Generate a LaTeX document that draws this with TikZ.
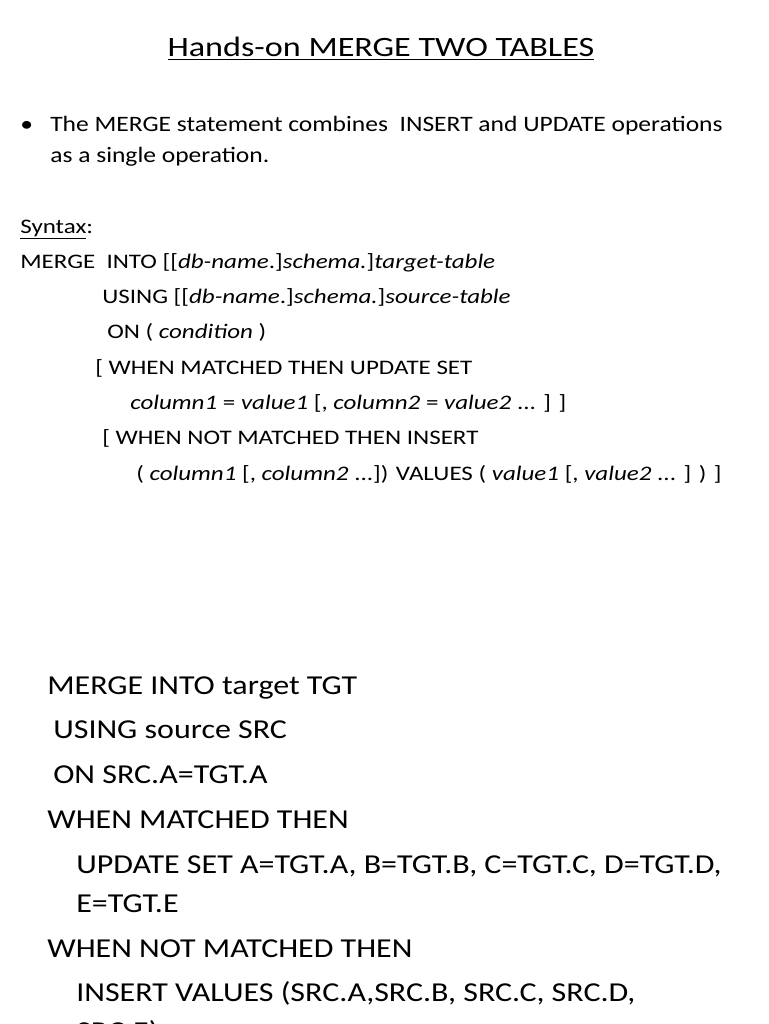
\documentclass[tikz,border=0pt]{standalone}
\usepackage{fontspec}
\setmainfont{Carlito}
\begin{document}
\begin{tikzpicture}[x=0.75pt,y=-0.75pt,
 t/.style={anchor=base west,inner sep=0pt,xscale=1.21,transform shape,font=\fontsize{15.5}{18}\selectfont},
 u/.style={anchor=base west,inner sep=0pt,xscale=1.16,transform shape,font=\fontsize{16.5}{20}\selectfont},
 b/.style={anchor=base west,inner sep=0pt,xscale=1.17,transform shape,font=\fontsize{20.5}{24}\selectfont}]
\useasboundingbox (0,0) rectangle (768,1024);
\clip (0,0) rectangle (768,1024);
\node[inner sep=0pt,anchor=base,xscale=1.22,transform shape,font=\fontsize{21}{25}\selectfont] (title) at (381,57) {\underline{Hands-on MERGE TWO TABLES}};
\node[u] (bul) at (20,131) {\textbullet};
\node[u] (l1) at (50,131) {The MERGE statement combines\ \ INSERT and UPDATE operations};
\node[u] (l2) at (50,162) {as a single operation.};
\node[t] (s0) at (20,233) {\underline{Syntax}:};
\node[t] (s1) at (20,268) {MERGE\ \ INTO [[\textit{db-name}.]\textit{schema.}]\textit{target-table}};
\node[t] (s2) at (102,303) {USING [[\textit{db-name}.]\textit{schema.}]\textit{source-table}};
\node[t] (s3) at (107,338) {ON ( \textit{condition} )};
\node[t] (s4) at (95,374) {[ WHEN MATCHED THEN UPDATE SET};
\node[t] (s5) at (130,409) {\textit{column1} = \textit{value1} [, \textit{column2} = \textit{value2} ... ] ]};
\node[t] (s6) at (102,444) {[ WHEN NOT MATCHED THEN INSERT};
\node[t] (s7) at (136,480) {( \textit{column1} [, \textit{column2} ...]) VALUES ( \textit{value1} [, \textit{value2} ... ] ) ]};
\node[b] (m1) at (47,694) {MERGE INTO target TGT};
\node[b] (m2) at (53,738) {USING source SRC};
\node[b] (m3) at (53,783) {ON SRC.A=TGT.A};
\node[b] (m4) at (47,828) {WHEN MATCHED THEN};
\node[b] (m5) at (76,873) {UPDATE SET A=TGT.A, B=TGT.B, C=TGT.C, D=TGT.D,};
\node[b] (m6) at (76,912) {E=TGT.E};
\node[b] (m7) at (47,957) {WHEN NOT MATCHED THEN};
\node[b] (m8) at (76,1001) {INSERT VALUES (SRC.A,SRC.B, SRC.C, SRC.D,};
\node[b] (m9) at (76,1040) {SRC.E)};
\end{tikzpicture}
\end{document}
